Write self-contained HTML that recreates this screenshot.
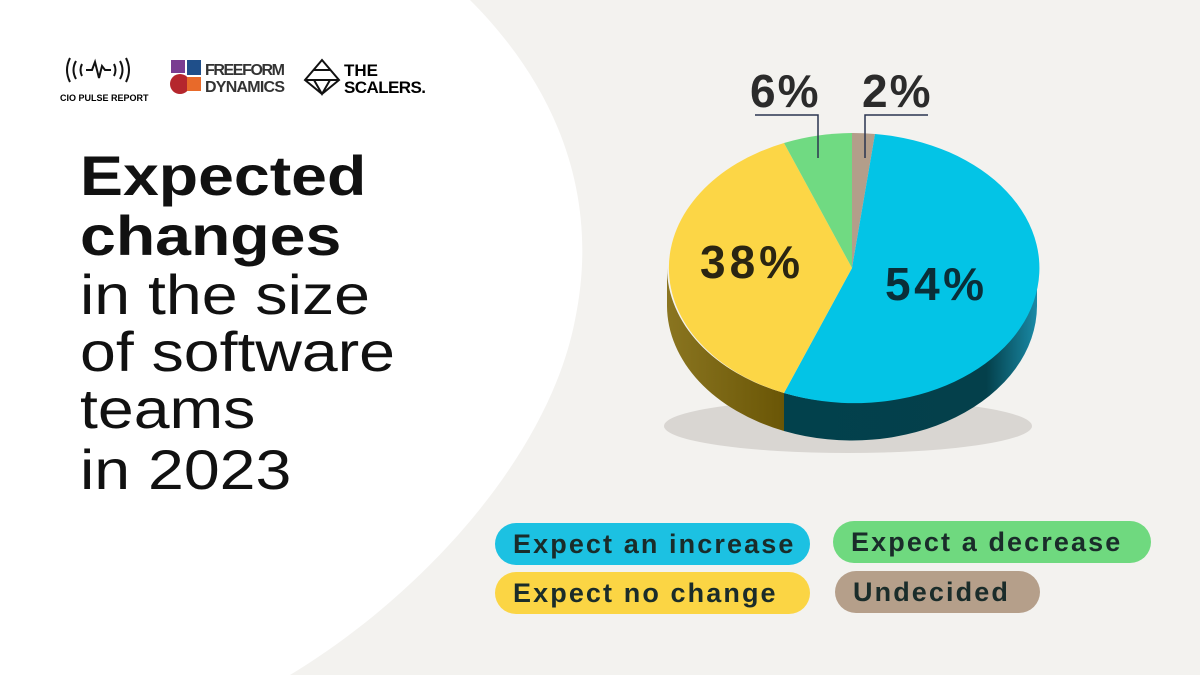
<!DOCTYPE html>
<html><head><meta charset="utf-8"><style>
body{margin:0;width:1200px;height:675px;overflow:hidden;background:#f3f2ef;font-family:"Liberation Sans",sans-serif;position:relative}
.t{position:absolute;left:80px;font-size:56px;color:#111;line-height:58px;white-space:nowrap;transform-origin:0 0;transform:scaleX(1.15)}
.pill{position:absolute;height:42px;border-radius:21px;font-weight:bold;font-size:27px;color:#1a2c2a;line-height:42px;padding-left:18px;box-sizing:border-box;letter-spacing:2.1px}
</style></head><body>
<svg width="1200" height="675" style="position:absolute;left:0;top:0">
<path d="M0 0 L470 0 C560 90 600 200 575 320 C550 450 430 590 290 675 L0 675 Z" fill="#fff"/>
<ellipse cx="848" cy="426" rx="184" ry="27" fill="#d9d6d2"/>
<defs>
<linearGradient id="bs" x1="0" x2="1"><stop offset="0" stop-color="#02414c"/><stop offset="0.8" stop-color="#04404b"/><stop offset="1" stop-color="#1a8aa6"/></linearGradient>
<linearGradient id="ys" x1="0" x2="1"><stop offset="0" stop-color="#8a7520"/><stop offset="1" stop-color="#6a5606"/></linearGradient>
</defs>
<path d="M1037 268 A185 135 0 0 1 784 393 L784 431 A185 135 0 0 0 1037 306 Z" fill="url(#bs)"/>
<path d="M784 393 A185 135 0 0 1 667 268 L667 306 A185 135 0 0 0 784 431 Z" fill="url(#ys)"/>
<path d="M852 268 L852 133 A185 135 0 0 1 875 134 Z" fill="#b39e8a"/>
<path d="M852 268 L875 134 A185 135 0 1 1 784 393 Z" fill="#03c4e6"/>
<path d="M852 268 L784 393 A185 135 0 0 1 784 143 Z" fill="#fcd646"/>
<path d="M852 268 L784 143 A185 135 0 0 1 852 133 Z" fill="#70da82"/>
<polyline points="755,115 818,115 818,158" fill="none" stroke="#2a3550" stroke-width="1.5"/>
<polyline points="865,158 865,115 928,115" fill="none" stroke="#2a3550" stroke-width="1.5"/>
<g font-family="Liberation Sans" font-weight="bold" fill="#2b2b2b">
<text x="750" y="107" font-size="46" letter-spacing="2">6%</text>
<text x="862" y="107" font-size="46" letter-spacing="2">2%</text>
<text x="700" y="278" font-size="46" letter-spacing="4" fill="#2a2512">38%</text>
<text x="885" y="300" font-size="46" letter-spacing="3.5" fill="#0a2e38">54%</text>
</g>
<g fill="none" stroke="#111" stroke-width="2">
<path d="M70 58 Q64 70 70 82 M76 61 Q71 70 76 79 M82 64 Q79 70 82 76"/>
<path d="M126 58 Q132 70 126 82 M120 61 Q125 70 120 79 M114 64 Q117 70 114 76"/>
<path d="M86 70 L92 70 L95 62 L99 78 L102 66 L105 70 L111 70"/>
</g>
<text x="60" y="101" font-size="9" font-weight="bold" font-family="Liberation Sans">CIO PULSE REPORT</text>
<rect x="171" y="60" width="14" height="13" fill="#7a3d91"/><rect x="187" y="60" width="14" height="15" fill="#1f4f8a"/>
<circle cx="180" cy="84" r="10" fill="#b5262d"/><rect x="187" y="77" width="14" height="14" fill="#e86a2a"/>
<text x="205" y="75" font-size="16" font-weight="bold" font-family="Liberation Sans" fill="#333" textLength="80">FREEFORM</text>
<text x="205" y="92" font-size="16" font-weight="bold" font-family="Liberation Sans" fill="#333" textLength="80">DYNAMICS</text>
<path d="M305 80 L322 60 L339 80 L322 94 Z M305 80 L339 80 M313 70 L331 70 M314 80 L322 94 L330 80" fill="none" stroke="#111" stroke-width="2"/>
<text x="344" y="76" font-size="17" font-weight="bold" font-family="Liberation Sans">THE</text>
<text x="344" y="93" font-size="17" font-weight="bold" font-family="Liberation Sans" textLength="82">SCALERS.</text>
</svg>
<div class="t" style="top:147px;font-weight:bold">Expected</div>
<div class="t" style="top:207px;font-weight:bold">changes</div>
<div class="t" style="top:266px">in the size</div>
<div class="t" style="top:323px">of software</div>
<div class="t" style="top:380px">teams</div>
<div class="t" style="top:441px">in 2023</div>
<div class="pill" style="left:495px;top:523px;width:315px;background:#1cc1e2">Expect an increase</div>
<div class="pill" style="left:833px;top:521px;width:318px;background:#6fd97f">Expect a decrease</div>
<div class="pill" style="left:495px;top:572px;width:315px;background:#fbd544">Expect no change</div>
<div class="pill" style="left:835px;top:571px;width:205px;background:#b59f8a">Undecided</div>
</body></html>
